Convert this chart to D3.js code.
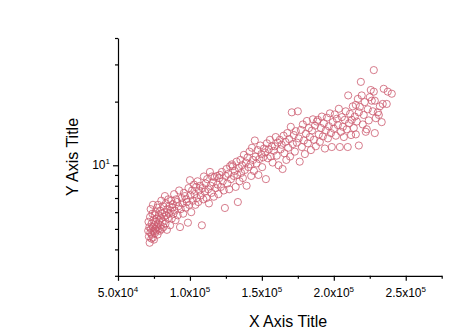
<!DOCTYPE html>
<html>
<head>
<meta charset="utf-8">
<script src="https://cdn.jsdelivr.net/npm/d3@7"></script>
<style>
  html, body { margin: 0; padding: 0; background: #fff; }
  svg { display: block; font-family: Arial, "Liberation Sans", sans-serif; }
</style>
</head>
<body>
<svg id="chart" width="474" height="332"></svg>
<script>
// ---- data (x in thousands, y linear value on log axis) ----
const X_UNIT = 1000;
const points = [
  // ~70-80k
  [71.0,4.9],[71.2,5.4],[71.5,4.6],[71.8,5.1],[72.0,4.3],[72.3,5.7],[72.5,4.8],[72.7,6.2],[73.0,5.0],[73.2,4.5],
  [73.4,5.3],[73.6,4.7],[73.9,5.9],[74.1,5.1],[74.3,4.55],[74.3,6.5],[74.6,5.5],[74.8,4.9],[75.0,4.45],[75.2,5.2],
  [75.5,5.8],[75.7,4.78],[75.9,5.0],[76.1,6.0],[76.3,5.4],[76.6,4.9],[76.8,5.6],[77.0,5.1],[77.3,6.3],[77.5,4.7],
  [77.8,6.5],[77.9,5.3],[78.2,5.0],[78.5,5.8],[78.7,5.5],[79.0,4.9],[79.3,6.1],[79.5,5.2],[79.8,5.6],[80.1,6.8],
  // 80-95k
  [80.4,5.0],[80.7,5.9],[81.0,5.4],[81.3,6.4],[81.6,5.1],[82.0,5.7],[82.3,6.0],[82.6,7.15],[83.0,5.3],[83.3,6.6],
  [83.6,5.8],[84.0,4.95],[84.3,6.2],[84.7,5.6],[85.0,6.9],[85.4,5.9],[85.8,6.4],[86.2,5.2],[86.6,6.1],[87.0,6.8],
  [87.4,5.6],[87.8,6.3],[88.2,6.55],[88.6,5.9],[89.0,7.3],[89.5,6.1],[90.0,5.5],[90.4,6.9],[91.0,6.7],[91.5,5.8],
  [92.0,6.4],[92.5,7.6],[93.1,5.1],[93.6,6.2],[94.2,7.0],[94.8,6.6],
  // 95-115k
  [95.3,5.9],[95.8,7.4],[96.5,7.15],[97.0,6.3],[97.5,6.9],[97.9,6.7],[98.6,5.35],[99.0,7.8],[99.5,6.5],[100.0,8.5],
  [100.4,7.2],[100.9,6.0],[101.5,7.6],[102.0,6.8],[102.8,8.1],[103.2,7.3],[103.8,6.5],[104.3,7.9],[104.8,7.0],[105.3,8.4],
  [105.8,6.7],[106.4,7.6],[107.0,8.0],[107.5,7.2],[108.3,5.2],[108.8,7.8],[109.3,6.9],[109.7,8.85],[110.3,7.5],[110.9,8.2],
  [111.5,7.0],[112.0,8.6],[112.6,7.7],[113.2,6.6],[113.9,9.3],[114.4,8.0],[115.0,7.4],[115.3,8.85],
  // 115-135k
  [116.0,8.3],[116.6,7.1],[117.2,8.8],[117.8,7.8],[118.8,8.9],[119.3,8.1],[119.8,7.3],[120.4,8.7],[120.8,9.0],[121.5,7.9],
  [122.2,9.3],[122.8,8.4],[123.5,7.6],[124.3,6.28],[124.8,8.9],[125.4,9.6],[126.0,8.2],[126.7,9.1],[127.3,7.7],[127.9,9.9],
  [128.5,8.6],[129.2,10.1],[129.9,9.9],[130.5,8.9],[131.1,9.4],[131.8,7.9],[132.4,10.4],[133.0,9.0],[133.3,6.7],[133.9,9.7],
  [134.5,8.4],[135.1,10.6],[135.6,9.2],
  // 135-160k
  [136.2,10.0],[136.8,8.7],[137.5,11.2],[138.1,9.5],[138.8,10.3],[139.4,8.0],[140.1,10.9],[140.7,9.8],[141.4,11.6],[142.0,10.1],
  [142.6,8.9],[143.1,12.1],[143.8,10.6],[144.5,9.4],[145.1,13.1],[145.7,11.0],[146.3,10.2],[147.0,11.8],[147.6,9.0],[148.3,10.7],
  [148.9,12.4],[149.6,11.3],[150.2,9.8],[150.9,10.9],[151.5,12.0],[152.2,11.5],[152.8,8.6],[153.5,12.7],[154.1,10.8],[154.8,11.9],
  [155.6,13.2],[156.2,11.0],[156.9,12.3],[157.5,10.3],[158.2,11.7],[159.0,12.3],[159.6,13.6],
  // 160-185k
  [160.3,11.1],[160.9,12.8],[161.6,10.0],[162.5,13.2],[163.1,11.9],[163.8,12.5],[164.4,9.6],[165.1,13.8],[165.7,11.4],[166.4,12.9],
  [167.0,10.6],[167.7,14.2],[168.3,12.1],[169.0,13.3],[169.6,11.0],[170.1,15.2],[170.8,17.8],[171.5,12.6],[172.2,13.9],[172.9,11.6],
  [173.6,14.5],[174.3,12.8],[175.0,18.0],[175.6,13.4],[176.3,10.4],[177.1,14.7],[177.8,12.2],[178.5,15.6],[179.2,13.1],[179.9,11.3],
  [180.6,14.1],[181.3,16.2],[182.0,12.7],[182.7,15.0],[183.4,13.6],[184.1,11.8],[184.8,14.6],
  // 185-210k
  [185.5,16.5],[186.2,13.2],[186.9,15.4],[187.5,12.3],[188.2,16.1],[188.9,16.4],[189.6,14.0],[190.3,12.9],[191.0,15.0],[191.7,17.0],
  [192.4,13.7],[193.1,15.8],[193.8,12.0],[194.5,14.6],[195.2,16.8],[195.9,13.4],[196.6,15.3],[197.3,17.6],[198.0,14.2],[198.6,12.2],
  [199.3,16.0],[200.0,14.9],[200.7,17.4],[201.4,13.8],[202.1,16.6],[202.8,15.5],[203.5,18.5],[204.2,12.2],[204.9,14.4],[205.6,16.9],
  [206.3,15.2],[207.0,13.6],[207.6,16.4],[208.3,18.0],[209.0,14.8],[209.7,12.2],
  // 210-240k
  [210.0,21.4],[210.6,15.8],[211.3,17.5],[212.0,13.9],[212.5,16.4],[213.2,19.0],[213.9,15.0],[214.6,17.0],[215.3,19.3],[215.3,14.0],
  [216.0,16.1],[216.7,20.6],[217.4,17.8],[217.4,12.4],[218.1,18.9],[218.8,24.8],[219.4,21.4],[220.1,15.6],[220.8,17.3],[221.5,19.9],
  [222.2,14.4],[222.9,14.8],[223.6,18.4],[224.3,16.3],[225.0,21.0],[225.7,22.7],[226.4,20.2],[227.1,18.0],[227.8,28.2],[227.8,22.3],
  [228.5,20.2],[228.5,14.2],[229.2,16.7],[230.6,17.8],[231.3,17.3],[232.0,19.0],[233.3,16.0],[234.0,19.5],[234.7,23.0],[236.8,19.5],
  [237.5,22.3],[240.3,21.8]
];

const xDomain = [50000, 275000];
const yDomain = [3, 40];
const xMajorTicks = [50000, 100000, 150000, 200000, 250000];
const xMinorTicks = [75000, 125000, 175000, 225000, 275000];
const yMajorTicks = [10];
const yMinorTicks = [3, 4, 5, 6, 7, 8, 9, 20, 30, 40];
const xTitle = "X Axis Title";
const yTitle = "Y Axis Title";

// ---- layout ----
const plot = { left: 118, right: 441.7, top: 38, bottom: 275.8 };
const symbolColor = "#cc5b6e";

const svg = d3.select("#chart");
const x = d3.scaleLinear().domain(xDomain).range([plot.left, plot.right]);
const y = d3.scaleLog().domain(yDomain).range([plot.bottom, plot.top]);

// points
svg.append("g")
  .selectAll("circle")
  .data(points)
  .join("circle")
  .attr("cx", d => x(d[0] * X_UNIT))
  .attr("cy", d => y(d[1]))
  .attr("r", 3.6)
  .attr("fill", "none")
  .attr("stroke", symbolColor)
  .attr("stroke-width", 0.8);

function styleAxis(g) {
  g.selectAll("path, line").attr("stroke", "#000").attr("stroke-width", 1.2);
  g.selectAll("text").remove();
}

// x axis
svg.append("g")
  .attr("transform", `translate(0,${plot.bottom})`)
  .call(d3.axisBottom(x).tickValues(xMajorTicks).tickSize(5).tickSizeOuter(0).tickFormat(""))
  .call(styleAxis);
svg.append("g")
  .attr("transform", `translate(0,${plot.bottom})`)
  .call(d3.axisBottom(x).tickValues(xMinorTicks).tickSize(3).tickSizeOuter(0).tickFormat(""))
  .call(styleAxis)
  .call(g => g.select(".domain").remove());

// y axis
svg.append("g")
  .attr("transform", `translate(${plot.left},0)`)
  .call(d3.axisLeft(y).tickValues(yMajorTicks).tickSize(5).tickSizeOuter(0).tickFormat(""))
  .call(styleAxis);
svg.append("g")
  .attr("transform", `translate(${plot.left},0)`)
  .call(d3.axisLeft(y).tickValues(yMinorTicks).tickSize(3).tickSizeOuter(0).tickFormat(""))
  .call(styleAxis)
  .call(g => g.select(".domain").remove());

// x tick labels: m.mx10^e
const xl = svg.append("g").selectAll("text")
  .data(xMajorTicks)
  .join("text")
  .attr("x", d => x(d))
  .attr("y", 297)
  .attr("text-anchor", "middle")
  .attr("font-size", 12)
  .attr("fill", "#000");
xl.each(function(d) {
  const e = Math.floor(Math.log10(d));
  const m = d / Math.pow(10, e);
  const t = d3.select(this);
  t.append("tspan").text(m.toFixed(1) + "x10");
  t.append("tspan").attr("font-size", 8).attr("dy", -5).text(e);
});

// y tick labels: 10^e
const yl = svg.append("g").selectAll("text")
  .data(yMajorTicks)
  .join("text")
  .attr("x", plot.left - 8)
  .attr("y", d => y(d) + 4)
  .attr("text-anchor", "end")
  .attr("font-size", 12)
  .attr("fill", "#000");
yl.each(function(d) {
  const e = Math.round(Math.log10(d));
  const t = d3.select(this);
  t.append("tspan").text("10");
  t.append("tspan").attr("font-size", 8).attr("dy", -5).text(e);
});

// axis titles
svg.append("text")
  .attr("x", 288)
  .attr("y", 327)
  .attr("text-anchor", "middle")
  .attr("font-size", 16)
  .attr("fill", "#000")
  .text(xTitle);

svg.append("text")
  .attr("transform", `translate(78,${(plot.top + plot.bottom) / 2}) rotate(-90)`)
  .attr("text-anchor", "middle")
  .attr("font-size", 16)
  .attr("fill", "#000")
  .text(yTitle);
</script>
</body>
</html>
